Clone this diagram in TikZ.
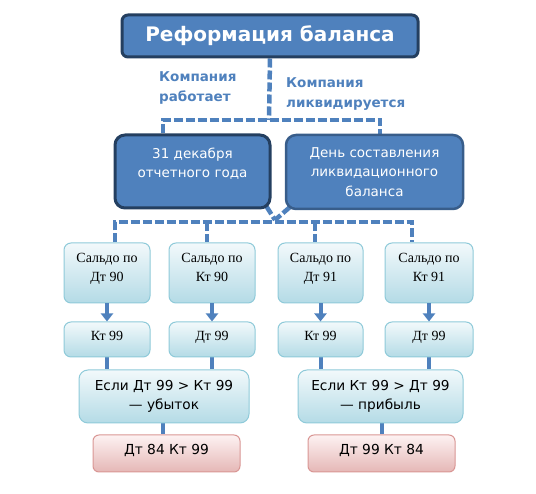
\documentclass[tikz,border=0pt]{standalone}
\usepackage{fontspec}
\setmainfont{DejaVu Sans}
\newfontfamily\dv{DejaVu Sans}
\newfontfamily\tnr{Liberation Serif}
\usetikzlibrary{arrows.meta,backgrounds}
\definecolor{accent}{HTML}{4F81BD}
\definecolor{darkborder}{HTML}{243F60}
\definecolor{midborder}{HTML}{385D8A}
\definecolor{bluetop}{HTML}{F2F9FB}
\definecolor{bluebot}{HTML}{B4DBE6}
\definecolor{blueline}{HTML}{8FCAD9}
\definecolor{redtop}{HTML}{FDF2F2}
\definecolor{redbot}{HTML}{E5B7B6}
\definecolor{redline}{HTML}{D99694}
\tikzset{
  titlebox/.style={draw=darkborder, line width=3pt, fill=accent, rounded corners=6pt,
    text=white, font={\dv\bfseries\fontsize{20}{23}\selectfont}, inner sep=0pt,
    minimum width=296pt, minimum height=42pt},
  datebox/.style={fill=accent, rounded corners=10pt, text=white, align=center,
    font={\dv\fontsize{13.5}{19.5}\selectfont}, inner sep=0pt},
  saldobox/.style={draw=blueline, line width=1pt, top color=bluetop, bottom color=bluebot,
    rounded corners=7pt, align=center, inner sep=0pt,
    font={\tnr\fontsize{14}{19}\selectfont}},
  ifbox/.style={draw=blueline, line width=1pt, top color=bluetop, bottom color=bluebot,
    rounded corners=9pt, align=center, inner sep=0pt,
    font={\dv\fontsize{13.7}{19}\selectfont}},
  resbox/.style={draw=redline, line width=1pt, top color=redtop, bottom color=redbot,
    rounded corners=6pt, align=center, inner sep=0pt,
    font={\dv\fontsize{13.8}{15}\selectfont}},
  caselabel/.style={text=accent, align=left, anchor=north west, inner sep=0pt,
    font={\dv\bfseries\fontsize{13.5}{20.5}\selectfont}},
  dashline/.style={draw=accent, line width=4.5pt, dash pattern=on 9pt off 3pt},
  solidline/.style={draw=accent, line width=4pt},
  arrowline/.style={draw=accent, line width=4pt, -{Triangle[width=12pt,length=8pt]}},
}
\begin{document}
\begin{tikzpicture}[x=1pt,y=-1pt]
\useasboundingbox (0,0) rectangle (536,494);
% title
\node[titlebox] (title) at (270,36) {Реформация баланса};
% labels
\node[caselabel] (lw) at (159,71) {Компания\\работает};
\node[caselabel] (ll) at (286,77) {Компания\\ликвидируется};
% second row
\node[datebox, draw=darkborder, line width=3pt, minimum width=155pt, minimum height=73pt, text depth=17pt] (b1) at (192.5,171.5) {31 декабря\\отчетного года};
\node[datebox, draw=midborder, line width=2.5pt, minimum width=177pt, minimum height=74pt] (b2) at (374.5,172) {День составления\\ликвидационного\\баланса};
% third row
\tikzset{srow/.style={saldobox, minimum height=60pt, text depth=11.5pt},
         krow/.style={saldobox, minimum height=35pt, text depth=7pt}}
\node[srow, minimum width=86pt] (s1) at (107,273) {Сальдо по\\Дт 90};
\node[srow, minimum width=86pt] (s2) at (212,273) {Сальдо по\\Кт 90};
\node[srow, minimum width=85pt] (s3) at (320.5,273) {Сальдо по\\Дт 91};
\node[srow, minimum width=88pt] (s4) at (429,273) {Сальдо по\\Кт 91};
% fourth row
\node[krow, minimum width=86pt] (k1) at (107,339.5) {Кт 99};
\node[krow, minimum width=86pt] (k2) at (212,339.5) {Дт 99};
\node[krow, minimum width=85pt] (k3) at (320.5,339.5) {Кт 99};
\node[krow, minimum width=88pt] (k4) at (429,339.5) {Дт 99};
% fifth row
\node[ifbox, minimum width=170pt, minimum height=53pt] (e1) at (164,396.5) {Если Дт 99 > Кт 99\\— убыток};
\node[ifbox, minimum width=165pt, minimum height=53pt] (e2) at (380.5,396.5) {Если Кт 99 > Дт 99\\— прибыль};
% sixth row
\node[resbox, minimum width=147pt, minimum height=37pt, text depth=9pt] (r1) at (166.5,453.5) {Дт 84 Кт 99};
\node[resbox, minimum width=147pt, minimum height=37pt, text depth=9pt] (r2) at (381.5,453.5) {Дт 99 Кт 84};
% connectors
\coordinate (tj) at (269,120);
\coordinate (tl) at (163,120);
\coordinate (tr) at (380,120);
\coordinate (v) at (275,220);
\coordinate (d1) at (115,222);
\coordinate (d2) at (207,222);
\coordinate (d3) at (315,222);
\coordinate (d4) at (412,222);
\begin{scope}[on background layer]
\draw[dashline] (title.south) -- (tj);
\draw[dashline] (tl |- b1.north) -- (tl) -- (tr) -- (tr |- b2.north);
\draw[dashline] ([xshift=-5pt,yshift=3pt]b1.south east) -- (v);
\draw[dashline] ([xshift=5pt,yshift=3pt]b2.south west) -- (v);
\draw[dashline] (d1 |- s1.north) -- (d1) -- (d4) -- (d4 |- s4.north);
\draw[dashline] (d2) -- (d2 |- s2.north);
\draw[dashline] (d3) -- (d3 |- s3.north);
\draw[solidline] (k1.south) -- (k1.south |- e1.north);
\draw[solidline] (k2.south) -- (k2.south |- e1.north);
\draw[solidline] (k3.south) -- (k3.south |- e2.north);
\draw[solidline] (k4.south) -- (k4.south |- e2.north);
\draw[solidline] (e1.south -| 163,0) -- (r1.north -| 163,0);
\draw[solidline] (e2.south -| 382,0) -- (r2.north -| 382,0);
\end{scope}
\draw[arrowline] (s1.south) -- (k1.north);
\draw[arrowline] (s2.south) -- (k2.north);
\draw[arrowline] (s3.south) -- (k3.north);
\draw[arrowline] (s4.south) -- (k4.north);
\end{tikzpicture}
\end{document}
